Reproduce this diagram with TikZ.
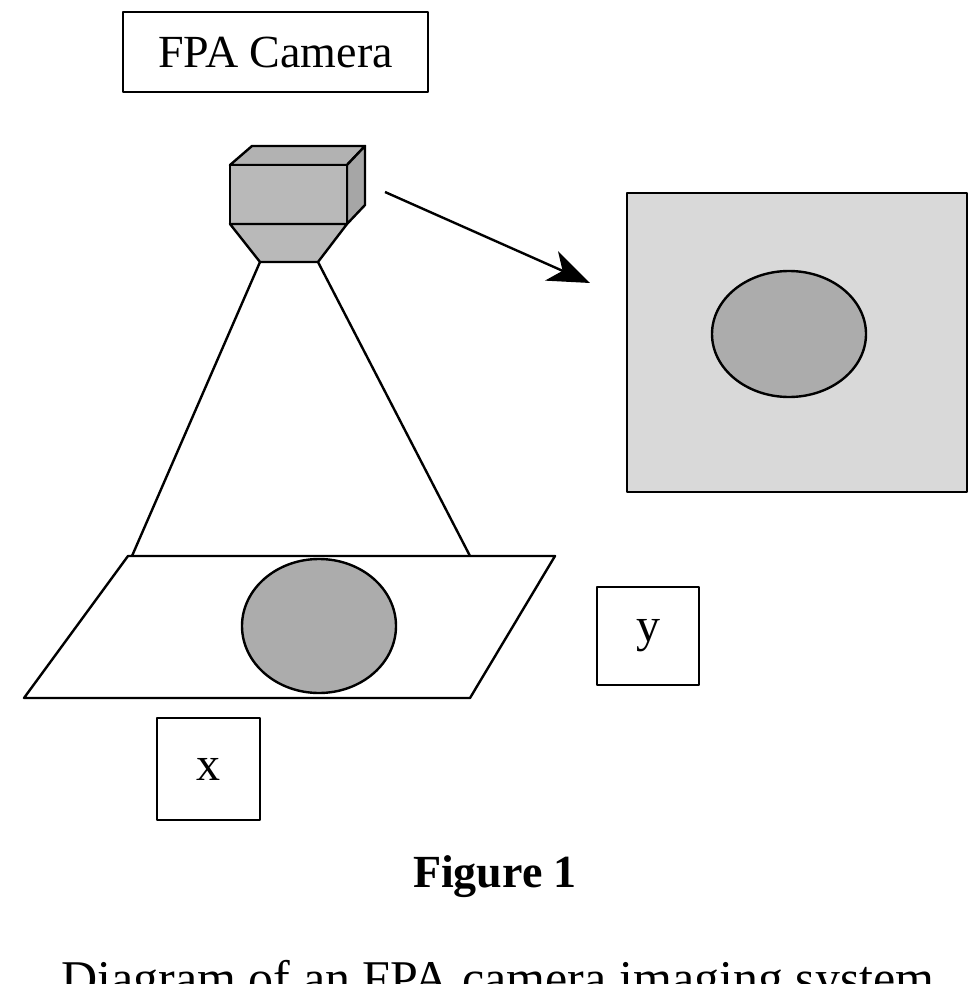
\documentclass[tikz,border=0pt]{standalone}
\usepackage{fontspec}
\setmainfont{Liberation Serif}
\usetikzlibrary{shapes.geometric,arrows.meta}
\begin{document}
\begin{tikzpicture}[x=1pt,y=-1pt,line width=2.4pt,line join=round,
  box/.style={draw,line width=1.6pt,inner sep=0pt},
  cam/.style={draw,fill=gray!60}]
\useasboundingbox (0,0) rectangle (975,984);
\clip (0,0) rectangle (975,984);
% labels
\node[box,minimum width=305pt,minimum height=80pt,font=\fontsize{46}{50}\selectfont] (fpa) at (275.5,52) {FPA Camera};
% camera
\draw[cam] (230,165) -- (252,146) -- (365,146) -- (347,165) -- cycle;
\draw[cam,fill=gray!70] (347,165) -- (365,146) -- (365,205) -- (347,224) -- cycle;
\draw[cam,fill=gray!55] (230,165) rectangle (347,224);
\draw[cam,fill=gray!55] (230,224) -- (347,224) -- (318,262) -- (260,262) -- cycle;
\coordinate (lL) at (260,262); \coordinate (lR) at (318,262);
% plane
\coordinate (p1) at (128,556); \coordinate (p2) at (555,556);
\coordinate (p3) at (470,698); \coordinate (p4) at (24,698);
\draw (lL) -- (132,556); \draw (lR) -- (470,556);
\draw (p1) -- (p2) -- (p3) -- (p4) -- cycle;
\node[draw,ellipse,fill=gray!65,minimum width=154pt,minimum height=134pt,inner sep=0pt] (obj) at (319,626) {};
% image
\node[draw,fill=gray!30,minimum width=340pt,minimum height=299pt,inner sep=0pt] (img) at (797,342.5) {};
\node[draw,ellipse,fill=gray!65,minimum width=154pt,minimum height=126pt,inner sep=0pt] (imobj) at (789,334) {};
% arrow
\coordinate (a0) at (385,192); \coordinate (a1) at (590,283);
\draw[-{Stealth[length=42pt,width=32pt,inset=12pt]}] (a0) -- (a1);
% axes boxes
\node[box,minimum width=102pt,minimum height=98pt,font=\fontsize{48}{52}\selectfont] (y) at (648,636) {y};
\node[box,minimum width=103pt,minimum height=102pt,font=\fontsize{48}{52}\selectfont] (x) at (208.5,769) {x};
% caption
\node[font=\bfseries\fontsize{46}{50}\selectfont] (fig) at (495,877) {Figure 1};
\node[font=\fontsize{50}{54}\selectfont,anchor=base] (cap) at (498,995) {Diagram of an FPA camera imaging system};
\end{tikzpicture}
\end{document}
